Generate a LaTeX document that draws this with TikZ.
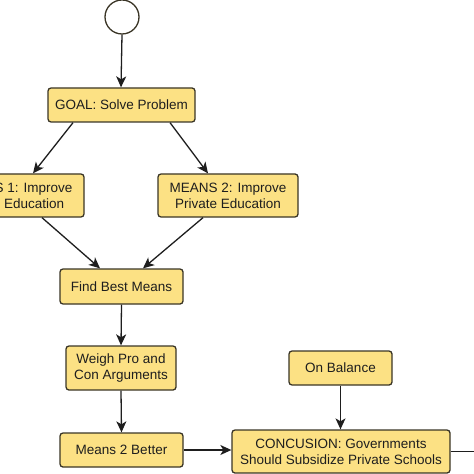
\documentclass[tikz,border=0pt]{standalone}
\usepackage{fontspec}
\setmainfont{Liberation Sans}
\usetikzlibrary{arrows.meta}
\definecolor{boxfill}{HTML}{FCE184}
\definecolor{boxline}{HTML}{3A3526}
\definecolor{ink}{HTML}{1E1E1E}
\begin{document}
\begin{tikzpicture}[x=1bp,y=-1bp,
  box/.style={draw=boxline, fill=boxfill, line width=1.3bp, rounded corners=3bp,
    align=center, text=ink, inner sep=0pt,
    font=\fontsize{13.5bp}{16bp}\selectfont},
  arr/.style={-{Stealth[length=11bp,width=10bp,inset=3bp]}, line width=1.3bp, draw=ink},
  plain/.style={line width=1.3bp, draw=ink}]
\useasboundingbox (0,0) rectangle (474,474);
\clip (0,0) rectangle (474,474);
\node[circle, draw=boxline, line width=1.3bp, fill=white, minimum size=34bp, inner sep=0pt] (start) at (122,17) {};
\node[box, minimum width=147bp, minimum height=34bp] (goal) at (121.5,105) {GOAL: Solve Problem};
\node[box, minimum width=140bp, minimum height=43bp] (m1) at (14,195.5) {MEANS 1: Improve\\Public Education};
\node[box, minimum width=140bp, minimum height=43bp] (m2) at (228,195.5) {MEANS 2: Improve\\Private Education};
\node[box, minimum width=123bp, minimum height=35bp] (find) at (121.5,286.5) {Find Best Means};
\node[box, minimum width=110bp, minimum height=44bp] (weigh) at (121,368) {Weigh Pro and\\Con Arguments};
\node[box, minimum width=123bp, minimum height=34bp] (better) at (121.5,450) {Means 2 Better};
\node[box, minimum width=103bp, minimum height=34bp] (bal) at (340.5,368) {On Balance};
\node[box, minimum width=218bp, minimum height=43bp] (concl) at (341,451.5) {CONCUSION: Governments\\Should Subsidize Private Schools};
\coordinate (out) at (490,451.5);

\draw[arr] (start.south) -- ([xshift=-0.5bp]goal.north);
\draw[arr] ([xshift=-48.5bp]goal.south) -- ([xshift=19bp]m1.north);
\draw[arr] ([xshift=48.5bp]goal.south) -- ([xshift=-20bp]m2.north);
\draw[arr] ([xshift=28bp]m1.south) -- ([xshift=-21.5bp]find.north);
\draw[arr] ([xshift=-25bp]m2.south) -- ([xshift=21.5bp]find.north);
\draw[arr] (find.south) -- (weigh.north);
\draw[arr] (weigh.south) -- (better.north);
\draw[arr] (better.east) -- (concl.west |- better.east);
\draw[arr] (bal.south) -- (concl.north -| bal.south);
\draw[plain] (concl.east) -- (out);
\end{tikzpicture}
\end{document}
